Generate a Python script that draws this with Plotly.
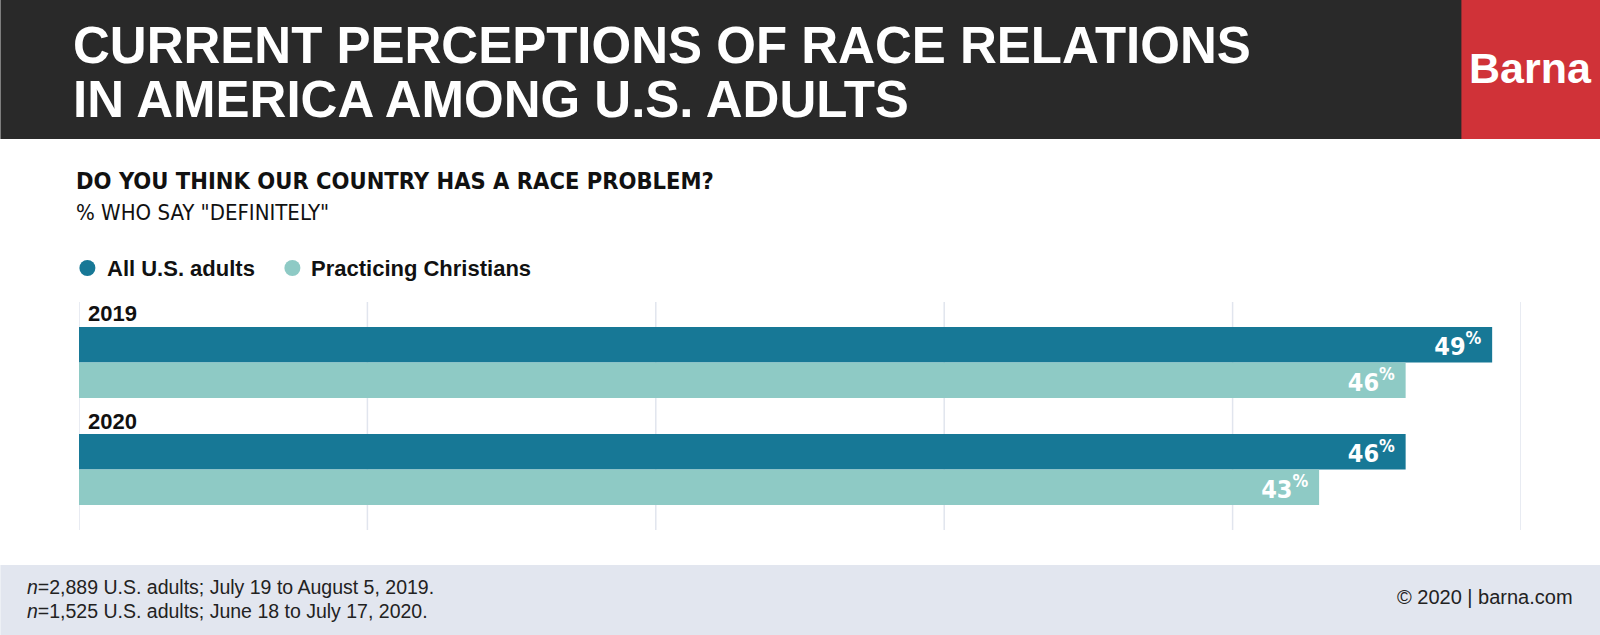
import plotly.graph_objects as go

# ---- data ----
years = ["2019", "2020"]
series_names = ["All U.S. adults", "Practicing Christians"]
all_adults = [49, 46]
practicing_christians = [46, 43]
x_ticks = [0, 10, 20, 30, 40, 50]

title_lines = ["CURRENT PERCEPTIONS OF RACE RELATIONS", "IN AMERICA AMONG U.S. ADULTS"]
question = "DO YOU THINK OUR COUNTRY HAS A RACE PROBLEM?"
subq = '% WHO SAY "DEFINITELY"'
footnotes = ["<i>n</i>=2,889 U.S. adults; July 19 to August 5, 2019.",
             "<i>n</i>=1,525 U.S. adults; June 18 to July 17, 2020."]
credit = "© 2020 | barna.com"
logo = "Barna"

# ---- styling ----
W, H = 1600, 635
DARK = "#177896"
LIGHT = "#8ecac5"
COND = "DejaVu Sans Condensed, Liberation Sans Narrow, Arial Narrow, sans-serif"
SANS = "Liberation Sans, Arial, Helvetica, sans-serif"

# plot area in pixels
PX0, PX1 = 78.6, 1520.6
PY0, PY1 = 302.0, 530.0


def px(x):
    return (x - PX0) / (PX1 - PX0)


def py(y):
    return (PY1 - y) / (PY1 - PY0)


fig = go.Figure()
for name, vals, col in [(series_names[0], all_adults, DARK),
                        (series_names[1], practicing_christians, LIGHT)]:
    fig.add_trace(go.Bar(
        y=years, x=vals, orientation="h", name=name,
        marker=dict(color=col, line=dict(width=0)),
        text=[f"{v}<sup>%</sup>\u00a0" for v in vals],
        textposition="inside", insidetextanchor="end",
        textfont=dict(family=COND, size=25, color="white", weight="bold"),
        constraintext="none", showlegend=False, hoverinfo="skip",
    ))

shapes = [
    dict(type="rect", xref="paper", yref="paper", x0=px(0), x1=px(W), y0=py(139), y1=py(0),
         fillcolor="#292929", line=dict(width=0), layer="below"),
    dict(type="rect", xref="paper", yref="paper", x0=px(1461), x1=px(W), y0=py(139), y1=py(0),
         fillcolor="#d03238", line=dict(width=0), layer="below"),
    dict(type="rect", xref="paper", yref="paper", x0=px(0), x1=px(W), y0=py(H), y1=py(565),
         fillcolor="#e2e6ef", line=dict(width=0), layer="below"),
]
# vertical gridlines at tick values
for t in x_ticks:
    shapes.append(dict(type="line", xref="x", yref="paper", x0=t, x1=t, y0=0, y1=1,
                       line=dict(color="#e1e5ee", width=1.5), layer="below"))
# legend circles
for cx, col in [(87, DARK), (292, LIGHT)]:
    shapes.append(dict(type="circle", xref="paper", yref="paper",
                       x0=px(cx - 8), x1=px(cx + 8), y0=py(268 + 8), y1=py(268 - 8),
                       fillcolor=col, line=dict(width=0)))

ann = []
for line, yc in zip(title_lines, [45, 99]):
    ann.append(dict(text=line, xref="paper", yref="paper", x=px(71), y=py(yc),
                    xanchor="left", yanchor="middle", showarrow=False,
                    font=dict(family=SANS, size=51, color="white", weight="bold")))
ann.append(dict(text=logo, xref="paper", yref="paper", x=px(1530.5), y=py(68),
                xanchor="center", yanchor="middle", showarrow=False,
                font=dict(family=SANS, size=43, color="white", weight="bold")))
ann.append(dict(text=question, xref="paper", yref="paper", x=px(74), y=py(181),
                xanchor="left", yanchor="middle", showarrow=False,
                font=dict(family=COND, size=23.5, color="#111111", weight="bold")))
ann.append(dict(text=subq, xref="paper", yref="paper", x=px(74), y=py(212),
                xanchor="left", yanchor="middle", showarrow=False,
                font=dict(family=COND, size=22, color="#111111")))
for name, tx in zip(series_names, [105, 309]):
    ann.append(dict(text=name, xref="paper", yref="paper", x=px(tx), y=py(268),
                    xanchor="left", yanchor="middle", showarrow=False,
                    font=dict(family=SANS, size=22, color="#111111", weight="bold")))
for i, yr in enumerate(years):
    ann.append(dict(text=yr, xref="x", yref="y", x=0, y=i, xshift=7, yshift=48.5,
                    xanchor="left", yanchor="middle", showarrow=False,
                    font=dict(family=SANS, size=22, color="#111111", weight="bold")))
for line, yc in zip(footnotes, [587, 611]):
    ann.append(dict(text=line, xref="paper", yref="paper", x=px(25), y=py(yc),
                    xanchor="left", yanchor="middle", showarrow=False,
                    font=dict(family=SANS, size=19.5, color="#222222")))
ann.append(dict(text=credit, xref="paper", yref="paper", x=px(1575), y=py(597),
                xanchor="right", yanchor="middle", showarrow=False,
                font=dict(family=SANS, size=20, color="#222222")))

fig.update_layout(
    width=W, height=H,
    margin=dict(l=PX0, r=W - PX1, t=PY0, b=H - PY1, pad=0),
    paper_bgcolor="white", plot_bgcolor="white",
    barmode="group", bargap=0.336, bargroupgap=0,
    xaxis=dict(range=[0, 50], tickvals=x_ticks, showticklabels=False,
               showgrid=False, zeroline=False, showline=False, fixedrange=True),
    yaxis=dict(type="category", categoryorder="array", categoryarray=years,
               range=[1.565, -0.565], showticklabels=False, showgrid=False,
               zeroline=False, showline=False, fixedrange=True),
    shapes=shapes, annotations=ann, showlegend=False,
)

fig.write_html("out.html", config={"displayModeBar": False})
